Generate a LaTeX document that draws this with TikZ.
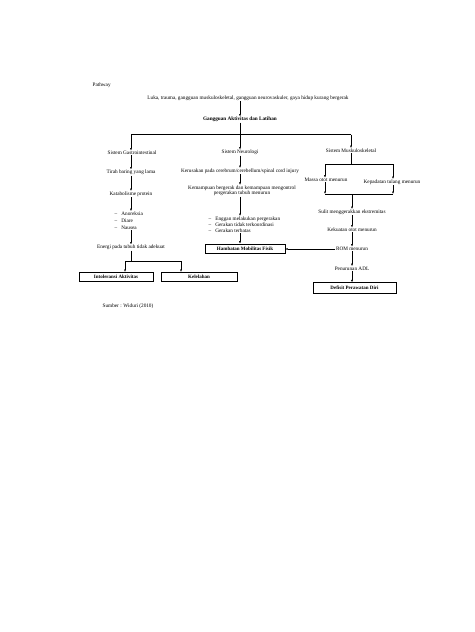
\documentclass[tikz,border=0pt]{standalone}
\usepackage{fontspec}
\setmainfont{Liberation Serif}
\usetikzlibrary{arrows.meta,positioning,calc}
\begin{document}
\begin{tikzpicture}[x=0.0443cm, y=-0.0443cm,
  txt/.style={font=\fontsize{6.6}{7.4}\selectfont, inner sep=0.6pt, align=center},
  bold/.style={txt, font=\fontsize{6.6}{7.4}\selectfont\bfseries},
  lst/.style={txt, align=left, anchor=west},
  box/.style={draw=black, line width=0.9pt, fill=white, font=\fontsize{6.3}{7.4}\selectfont\bfseries, minimum height=0.42cm, inner sep=1pt},
  arr/.style={-{Latex[length=3pt, width=2.4pt]}, line width=0.5pt},
  ln/.style={line width=0.5pt}]
\useasboundingbox (0,0) rectangle (474,632);
\node[txt, anchor=west] (pathway) at (92,85) {Pathway};
\node[txt] (cause) at (248,98) {Luka, trauma, gangguan muskuloskeletal, gangguan neurovaskuler, gaya hidup kurang bergerak};
\node[bold] (gangguan) at (240,119.5) {Gangguan Aktivitas dan Latihan};
\coordinate (split) at (240,134.5);
\coordinate (splitl) at (131,134.5);
\coordinate (splitr) at (351,134.5);
\node[txt] (gastro) at (132,153) {Sistem Gastrointestinal};
\node[txt] (neuro) at (240,152.5) {Sistem Neurologi};
\node[txt] (musku) at (351,150.5) {Sistem Muskuloskeletal};
\draw[arr] (gangguan.north |- cause.south) -- (gangguan.north);
\draw[ln] (gangguan.south) -- (split);
\draw[ln] (splitl) -- (splitr);
\draw[arr] (splitl) -- (splitl |- gastro.north);
\draw[arr] (split) -- (neuro.north);
\draw[arr] (splitr) -- (musku.north);
\node[txt] (tirah) at (131,172.5) {Tirah baring yang lama};
\node[txt] (katab) at (131,194) {Katabolisme protein};
\node[lst, font=\fontsize{6.6}{9}\selectfont] (gejala1) at (114,220.7) {\makebox[8.5pt][l]{--}Anoreksia\\ \makebox[8.5pt][l]{--}Diare\\ \makebox[8.5pt][l]{--}Nausea};
\node[txt] (energi) at (131,247.5) {Energi pada tubuh tidak adekuat};
\draw[arr] (splitl |- gastro.south) -- (tirah);
\draw[arr] (tirah) -- (katab);
\draw[arr] (katab.south) -- (katab.south |- gejala1.north);
\draw[arr] (energi.north |- gejala1.south) -- (energi.north);
\coordinate (split2) at (131,261);
\coordinate (l2) at (125,261);
\coordinate (r2) at (181,261);
\node[box, minimum width=3.28cm] (intol) at (116,277) {Intoleransi Aktivitas};
\node[box, minimum width=3.37cm] (lelah) at (199,277) {Kelelahan};
\draw[ln] (energi.south) -- (split2);
\draw[ln] (l2) -- (r2);
\draw[arr] (l2) -- (l2 |- intol.north);
\draw[arr] (r2) -- (r2 |- lelah.north);
\node[txt] (rusak) at (240,171) {Kerusakan pada cerebrum/cerebellum/spinal cord injury};
\node[txt] (mampu) at (242,190.8) {Kemampuan bergerak dan kemampuan mengontrol\\ pergerakan tubuh menurun};
\node[lst, font=\fontsize{6.6}{7.6}\selectfont] (gejala2) at (208,224.5) {\makebox[8.5pt][l]{--}Enggan melakukan pergerakan\\ \makebox[8.5pt][l]{--}Gerakan tidak terkoordinasi\\ \makebox[8.5pt][l]{--}Gerakan terbatas};
\node[box, minimum width=3.54cm, minimum height=0.4cm] (hambatan) at (245,248.5) {Hambatan Mobilitas Fisik};
\draw[arr] (neuro) -- (rusak);
\draw[arr] (rusak) -- (rusak |- mampu.north);
\draw[arr] (rusak |- mampu.south) -- (rusak |- gejala2.north);
\draw[arr] (rusak |- gejala2.south) -- (rusak |- hambatan.north);
\coordinate (split3) at (351,164);
\coordinate (l3) at (325,164);
\coordinate (r3) at (393,164);
\node[txt] (massa) at (326,180) {Massa otot menurun};
\node[txt] (tulang) at (392,182) {Kepadatan tulang menurun};
\draw[ln] (musku.south) -- (split3);
\draw[ln] (l3) -- (r3);
\draw[arr] (l3) -- (l3 |- massa.north);
\draw[arr] (r3) -- (r3 |- tulang.north);
\coordinate (l4) at (325,194);
\coordinate (r4) at (393,194);
\coordinate (join) at (352,194);
\draw[arr] (l3 |- massa.south) -- (l4);
\draw[arr] (r3 |- tulang.south) -- (r4);
\draw[ln] (l4) -- (r4);
\node[txt] (sulit) at (352,212) {Sulit menggerakkan ekstremitas};
\node[txt] (kekuatan) at (352,230) {Kekuatan otot menurun};
\node[txt] (rom) at (352,249) {ROM menurun};
\node[txt] (adl) at (352,268.5) {Penurunan ADL};
\node[box, minimum width=3.68cm, minimum height=0.47cm] (defisit) at (354.5,288) {Defisit Perawatan Diri};
\draw[arr] (join) -- (sulit.north);
\draw[arr] (sulit) -- (kekuatan);
\draw[arr] (kekuatan) -- (rom);
\draw[arr] (rom.west) -- (rom.west -| hambatan.east);
\draw[arr] (rom) -- (adl);
\draw[arr] (adl.south) -- (adl.south |- defisit.north);
\node[txt] (sumber) at (128,306) {Sumber : Widuri (2010)};
\end{tikzpicture}
\end{document}
